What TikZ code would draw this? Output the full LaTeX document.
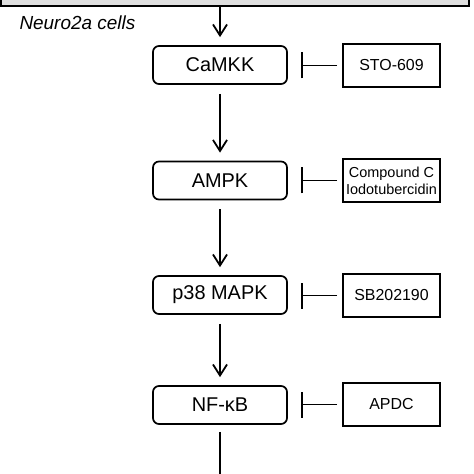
\documentclass[tikz,border=0pt]{standalone}
\usepackage{fontspec}
\setmainfont{Liberation Sans}
\usetikzlibrary{arrows.meta}

\begin{document}
\begin{tikzpicture}[x=1bp, y=-1bp,
  kinase/.style={draw, line width=1.7bp, rounded corners=6bp, minimum width=134bp,
    minimum height=38bp, inner sep=0, font=\fontsize{20}{23}\selectfont},
  drug/.style={draw, line width=1.6bp, minimum width=97bp, minimum height=43bp,
    inner sep=0, align=center, font=\fontsize{16}{18}\selectfont},
  act/.style={line width=1.8bp, -{Straight Barb[length=11bp, width=14bp, line width=1.8bp]}},
  inhib/.style={line width=1.7bp, -{Bar[width=26bp, line width=1.8bp]}},
]
\useasboundingbox (0,0) rectangle (474,474);
\clip (0,0) rectangle (474,474);

% stimulus box (cut off at the top)
\node[draw, fill=gray!25, line width=1.8bp, minimum width=468bp, minimum height=56bp,
  inner sep=0] (stim) at (235,-22) {};
\node[anchor=base west, font=\fontsize{19}{22}\selectfont\itshape] (cell) at (16,30) {Neuro2a cells};

% kinases
\node[kinase] (camkk) at (220,65) {CaMKK};
\node[kinase] (ampk) at (220,180.5) {AMPK};
\node[kinase] (p38) at (220,295) {p38 MAPK};
\node[kinase] (nfkb) at (220,405) {NF-κB};

% inhibitors
\node[drug] (sto) at (391.5,65.5) {STO-609};
\node[drug, font=\fontsize{14.5}{17}\selectfont] (cpdc) at (391.5,180.5) {Compound C\\Iodotubercidin};
\node[drug] (sb) at (391.5,295.5) {SB202190};
\node[drug] (apdc) at (391.5,404.5) {APDC};

\coordinate (out) at (220,480);

% arrows
\draw[act, shorten >=8bp] (stim.south -| camkk) -- (camkk.north);
\begin{scope}[shorten <=9bp, shorten >=8bp]
\draw[act] (camkk.south) -- (ampk.north);
\draw[act] (ampk.south) -- (p38.north);
\draw[act] (p38.south) -- (nfkb.north);
\end{scope}
\draw[line width=1.8bp, shorten <=7bp] (nfkb.south) -- (out);

% inhibition
\begin{scope}[shorten <=5bp, shorten >=13bp]
\draw[inhib] (sto.west) -- (camkk.east |- sto.west);
\draw[inhib] (cpdc.west) -- (ampk.east |- cpdc.west);
\draw[inhib] (sb.west) -- (p38.east |- sb.west);
\draw[inhib] (apdc.west) -- (nfkb.east |- apdc.west);
\end{scope}

\end{tikzpicture}
\end{document}
